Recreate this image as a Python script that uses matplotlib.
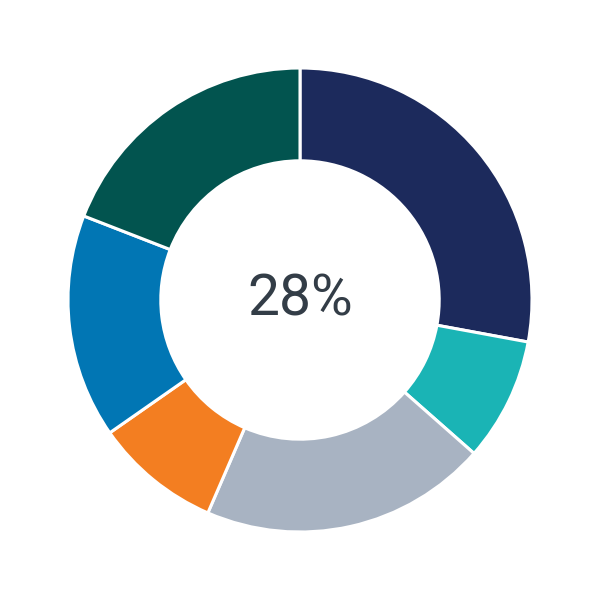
import matplotlib
matplotlib.use("Agg")
import matplotlib.pyplot as plt

values = [27.9, 8.6, 20.0, 8.8, 15.6, 19.1]
colors = ["#1c2a5c", "#1ab4b5", "#a8b3c2", "#f37e21", "#0176b4", "#02544f"]
center_label = "28%"

fig = plt.figure(figsize=(6, 6), dpi=100)
ax = fig.add_axes([0, 0, 1, 1])
ax.pie(values, colors=colors, startangle=90, counterclock=False, radius=1.0,
       wedgeprops=dict(width=0.4, edgecolor="white", linewidth=2.2))
L = 300 / 232
ax.set_xlim(-L, L)
ax.set_ylim(-L, L)
ax.set_aspect("equal")
ax.axis("off")
ax.text(0, 0.0, center_label, ha="center", va="center", fontsize=41,
        color="#333d47", family=["Roboto", "DejaVu Sans"])
fig.savefig("out.png", dpi=100, facecolor="white")
